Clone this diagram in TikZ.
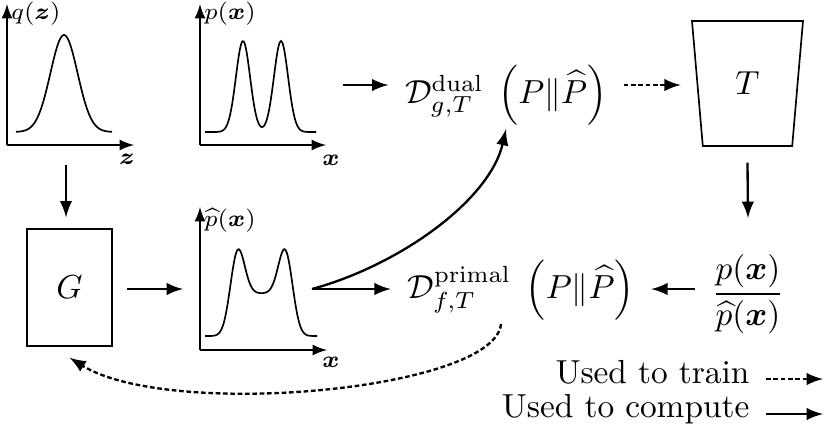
\documentclass[tikz,border=0pt]{standalone}
\usepackage{amsmath}
\usepackage{amssymb}
\usetikzlibrary{arrows, shapes.geometric}

\begin{document}
\begin{tikzpicture}[x=0.3pt, y=-0.3pt, >=latex,
    flow/.style={->, line width=0.7pt},
    train/.style={->, line width=0.7pt, dash pattern=on 1.4pt off 0.8pt},
    axis/.style={->, line width=0.5pt},
    density/.style={line width=0.5pt, smooth, samples=90},
    lab/.style={font=\fontsize{7.5}{9}\selectfont, inner sep=1pt},
    term/.style={inner sep=1pt, outer xsep=4pt},
    legend/.style={anchor=east, inner sep=1pt, outer xsep=4pt}]
    \useasboundingbox (0,0) rectangle (825,433);

    \draw[axis] (7,145) -- (7,4);
    \draw[axis] (7,145) -- (134,145);
    \draw[density] plot[domain=16:112] (\x, {132-97*exp(-((\x-64)^2)/370)});
    \node[lab, anchor=west] (qlab) at (7,14) {$q(\boldsymbol{z})$};
    \node[lab] (zlab) at (127,159) {$\boldsymbol{z}$};

    \draw[axis] (200,145) -- (200,4);
    \draw[axis] (200,145) -- (326,145);
    \draw[density] plot[domain=205:316] (\x, {132-91*(exp(-((\x-243)^2)/100)+exp(-((\x-281)^2)/100))});
    \node[lab, anchor=west] (plab) at (200,14) {$p(\boldsymbol{x})$};
    \node[lab] (xlab) at (331,160) {$\boldsymbol{x}$};

    \draw[axis] (200,350) -- (200,207);
    \draw[axis] (200,350) -- (327,350);
    \draw[density] plot[domain=205:317] (\x, {336-58*(exp(-((\x-237)^2)/98)+exp(-((\x-286)^2)/98)+0.735*exp(-(((\x-261.5)/30)^4)))});
    \node[lab, anchor=west] (hatlab) at (200,220) {$\widehat{p}(\boldsymbol{x})$};
    \node[lab] (hatxlab) at (331,362) {$\boldsymbol{x}$};

    \node[draw, line width=0.5pt, minimum width=25.5pt, minimum height=35.1pt,
      outer xsep=4.5pt, outer ysep=3.5pt] (G) at (69.5,287.5) {$G$};
    \node[draw, line width=0.5pt, trapezium, shape border rotate=180, trapezium angle=76.5,
      trapezium stretches body, minimum width=33.3pt, minimum height=37.5pt,
      outer sep=5pt] (T) at (747.5,83.5) {$T$};
    \node[term] (Ddual) at (506,95) {$\mathcal{D}^{\mathrm{dual}}_{g,T}\;\left(P\|\widehat{P}\right)$};
    \node[term] (Dprimal) at (521,290) {$\mathcal{D}^{\mathrm{primal}}_{f,T}\;\left(P\|\widehat{P}\right)$};
    \node[term, outer ysep=10pt] (ratio) at (748,294) {$\dfrac{p(\boldsymbol{x})}{\widehat{p}(\boldsymbol{x})}$};

    \coordinate (qout) at (66,165);
    \coordinate (pout) at (343,85);
    \coordinate (hatin) at (183,289);
    \coordinate (hatout) at (312,289);

    \draw[flow] (qout) -- (qout |- G.north);
    \draw[flow] (G.east |- hatin) -- (hatin);
    \draw[flow] (hatout) -- (hatout -| Dprimal.west);
    \draw[flow] (hatout) .. controls (400,265) and (490,200) .. (Ddual.south);
    \draw[flow] (pout) -- (pout -| Ddual.west);
    \draw[train] (Ddual.east |- pout) -- (pout -| T.west);
    \draw[flow] (T.south) -- (ratio.north);
    \draw[flow] (ratio.west |- hatout) -- (hatout -| Dprimal.east);
    \draw[train] ([xshift=-6pt]Dprimal.south) .. controls (495,390) and (170,420) .. (G.south);

    \node[legend] (trainkey) at (766,372) {Used to train};
    \node[legend] (computekey) at (766,409) {Used to compute};
    \coordinate (trainend) at (823,379);
    \coordinate (computeend) at (823,414);
    \draw[train] (trainkey.east |- trainend) -- (trainend);
    \draw[flow] (computekey.east |- computeend) -- (computeend);
\end{tikzpicture}
\end{document}
